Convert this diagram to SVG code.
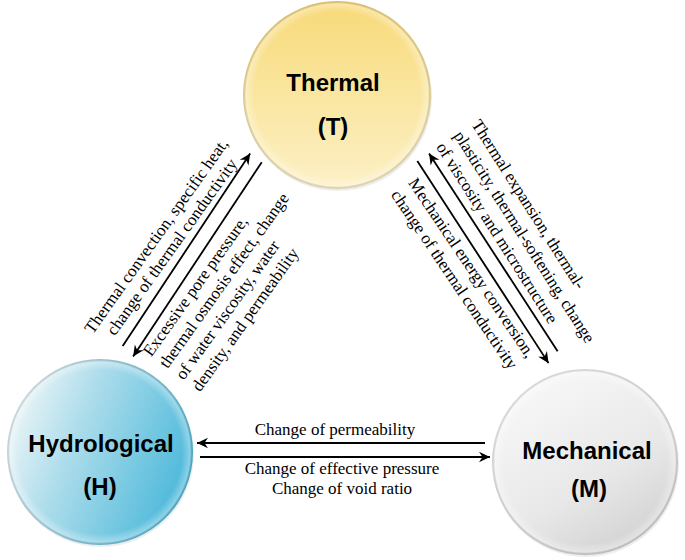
<svg xmlns="http://www.w3.org/2000/svg" width="685" height="560" viewBox="0 0 685 560">
<style>
.node-label{font-family:"Liberation Sans",Arial,sans-serif;font-weight:bold;font-size:24px;fill:#000;text-anchor:middle}
.edge-label{font-family:"Liberation Serif","Times New Roman",serif;font-size:17px;fill:#000}
.mid{text-anchor:middle}
.start{text-anchor:start}
.arrow{stroke:#000;stroke-width:1.8;fill:none;marker-end:url(#ah)}
.shadow{fill:#000;opacity:0.07}
</style>
<defs>
<marker id="ah" markerUnits="userSpaceOnUse" markerWidth="14" markerHeight="12" refX="12" refY="6" orient="auto" viewBox="0 0 14 12">
<path d="M12,6 L1,0.8 L4.5,6 L1,11.2 Z" fill="#000"/>
</marker>
<linearGradient id="gT" x1="0" y1="0" x2="0" y2="1">
<stop offset="0" stop-color="#F8D978"/>
<stop offset="0.5" stop-color="#FAE6A0"/>
<stop offset="1" stop-color="#FCF0C6"/>
</linearGradient>
<linearGradient id="gH" x1="0" y1="0.3" x2="1" y2="0.7">
<stop offset="0" stop-color="#EEF6F8"/>
<stop offset="0.35" stop-color="#AEDDEB"/>
<stop offset="1" stop-color="#45B6D9"/>
</linearGradient>
<linearGradient id="gM" x1="0.2" y1="0" x2="0.8" y2="1">
<stop offset="0" stop-color="#F9F9F9"/>
<stop offset="0.6" stop-color="#E8E8E8"/>
<stop offset="1" stop-color="#CFCFCF"/>
</linearGradient>
<radialGradient id="rim" cx="0.5" cy="0.5" r="0.5">
<stop offset="0.88" stop-color="#fff" stop-opacity="0"/>
<stop offset="0.97" stop-color="#fff" stop-opacity="0.35"/>
<stop offset="1" stop-color="#000" stop-opacity="0.12"/>
</radialGradient>
</defs>
<rect width="685" height="560" fill="#fff"/>

<g id="node-thermal">
<circle class="shadow" cx="338" cy="97" r="94"/>
<circle cx="337" cy="95" r="94" fill="url(#gT)"/>
<circle cx="337" cy="95" r="94" fill="url(#rim)"/>
<text class="node-label" x="333" y="91">Thermal</text>
<text class="node-label" x="333" y="135">(T)</text>
</g>

<g id="node-hydrological">
<circle class="shadow" cx="101" cy="454" r="93"/>
<circle cx="100" cy="452" r="93" fill="url(#gH)"/>
<circle cx="100" cy="452" r="93" fill="url(#rim)"/>
<text class="node-label" x="101" y="452">Hydrological</text>
<text class="node-label" x="100" y="495">(H)</text>
</g>

<g id="node-mechanical">
<circle class="shadow" cx="586" cy="464" r="93"/>
<circle cx="585" cy="462" r="93" fill="url(#gM)"/>
<circle cx="585" cy="462" r="93" fill="url(#rim)"/>
<text class="node-label" x="587" y="459">Mechanical</text>
<text class="node-label" x="589" y="497">(M)</text>
</g>

<g id="connectors">
<g transform="translate(192,254) rotate(-56.5)">
<line class="arrow" x1="-115" y1="-7" x2="116" y2="-7"/>
<line class="arrow" x1="115" y1="7.5" x2="-118" y2="7.5"/>
</g>
<g transform="translate(488,257) rotate(57)">
<line class="arrow" x1="117" y1="-7" x2="-119" y2="-7"/>
<line class="arrow" x1="-119" y1="7" x2="122" y2="7"/>
</g>
<line class="arrow" x1="485" y1="443" x2="197" y2="443"/>
<line class="arrow" x1="200" y1="457" x2="490" y2="457"/>
</g>

<g id="edge-labels">
<g transform="translate(192,254) rotate(-54.5)">
<text class="edge-label mid" x="-6" y="-34">Thermal convection, specific heat,</text>
<text class="edge-label mid" x="-6" y="-15">change of thermal conductivity</text>
<text class="edge-label start" x="-108" y="27">Excessive pore pressure,</text>
<text class="edge-label start" x="-108" y="47">thermal osmosis effect, change</text>
<text class="edge-label start" x="-108" y="67">of water viscosity,  water</text>
<text class="edge-label start" x="-108" y="87">density, and permeability</text>
</g>
<g transform="translate(488,257) rotate(57.5)">
<text class="edge-label start" x="-121" y="-57">Thermal expansion, thermal-</text>
<text class="edge-label start" x="-121" y="-36">plasticity, thermal-softening, change</text>
<text class="edge-label start" x="-121" y="-15">of viscosity and microstructure</text>
</g>
<g transform="translate(488,257) rotate(56)">
<text class="edge-label mid" x="0" y="25">Mechanical energy conversion,</text>
<text class="edge-label mid" x="0" y="46">change of thermal conductivity</text>
</g>
<text class="edge-label mid" x="335" y="435">Change of permeability</text>
<text class="edge-label mid" x="342" y="474">Change of effective pressure</text>
<text class="edge-label mid" x="342" y="494">Change of void ratio</text>
</g>
</svg>
